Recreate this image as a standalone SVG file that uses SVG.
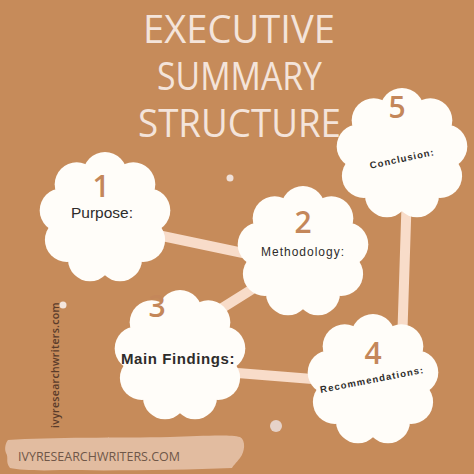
<svg xmlns="http://www.w3.org/2000/svg" xmlns:xlink="http://www.w3.org/1999/xlink" width="474" height="474" viewBox="0 0 474 474">
<style>
.title{font-family:"Open Sans","DejaVu Sans",sans-serif;font-weight:500;font-size:39px;fill:#f4e4da;}
.num{font-family:"Open Sans","DejaVu Sans",sans-serif;font-weight:600;font-size:30px;fill:#c4875a;text-anchor:middle;}
.lbl{font-family:"Liberation Sans","DejaVu Sans",sans-serif;fill:#2e2c2b;text-anchor:middle;}
.conn{stroke:#f8dcc9;stroke-width:10;stroke-linecap:round;fill:none;}
.cloud{fill:#fffdf9;}
</style>
<defs>
<g id="cloud">
<circle cx="0" cy="0" r="46"/>
<circle cx="0" cy="-44" r="22"/>
<circle cx="28.3" cy="-33.7" r="22"/>
<circle cx="43.3" cy="-7.6" r="22"/>
<circle cx="38.1" cy="22" r="22"/>
<circle cx="15" cy="41.3" r="22"/>
<circle cx="-15" cy="41.3" r="22"/>
<circle cx="-38.1" cy="22" r="22"/>
<circle cx="-43.3" cy="-7.6" r="22"/>
<circle cx="-28.3" cy="-33.7" r="22"/>
</g>
</defs>
<rect width="474" height="474" fill="#c68b5a"/>
<g id="title">
<text class="title" x="143" y="43" textLength="192" lengthAdjust="spacingAndGlyphs">EXECUTIVE</text>
<text class="title" x="157" y="90" textLength="165" lengthAdjust="spacingAndGlyphs">SUMMARY</text>
<text class="title" x="138" y="137" textLength="203" lengthAdjust="spacingAndGlyphs">STRUCTURE</text>
</g>
<g id="dots">
<circle cx="230" cy="178" r="3.5" fill="#efe0d8"/>
<circle cx="63" cy="305" r="3.5" fill="#f4e6de"/>
<circle cx="276" cy="426" r="6" fill="#e6d2c8"/>
</g>
<g id="connectors">
<line class="conn" x1="110" y1="225" x2="300" y2="265"/>
<line class="conn" x1="270" y1="278" x2="195" y2="325"/>
<line class="conn" x1="200" y1="370" x2="350" y2="382"/>
<line class="conn" x1="407" y1="190" x2="402" y2="345"/>
</g>
<g id="node1">
<use xlink:href="#cloud" class="cloud" transform="translate(105,218)"/>
<text class="num" x="101" y="197">1</text>
<text class="lbl" x="102" y="218" font-size="15.5">Purpose:</text>
</g>
<g id="node2">
<use xlink:href="#cloud" class="cloud" transform="translate(303,252)"/>
<text class="num" x="303" y="233">2</text>
<text class="lbl" x="303" y="256" font-size="12" letter-spacing="1">Methodology:</text>
</g>
<g id="node5">
<use xlink:href="#cloud" class="cloud" transform="translate(402,154)"/>
<text class="num" x="397" y="118">5</text>
<text class="lbl" x="402" y="162" font-size="9.5" font-weight="bold" letter-spacing="1" transform="rotate(-12 402 158)">Conclusion:</text>
</g>
<g id="node3">
<use xlink:href="#cloud" class="cloud" transform="translate(180,356)"/>
<text class="num" x="157" y="317">3</text>
<text class="lbl" x="178" y="364" font-size="15" font-weight="bold" letter-spacing="0.6">Main Findings:</text>
</g>
<g id="node4">
<use xlink:href="#cloud" class="cloud" transform="translate(373,380)"/>
<text class="num" x="373" y="364">4</text>
<text class="lbl" x="372" y="383" font-size="9.5" font-weight="bold" letter-spacing="1.1" transform="rotate(-11 372 379)">Recommendations:</text>
</g>
<g id="watermark">
<text x="59" y="428" font-family="Open Sans, DejaVu Sans, sans-serif" font-size="10.5" font-weight="600" fill="#5b3c2a" letter-spacing="0.4" textLength="126" transform="rotate(-90 59 428)">ivyresearchwriters.com</text>
</g>
<g id="banner">
<path d="M8 440 C50 437 120 438 170 437 C200 436 230 434 240 437 C246 440 245 452 240 458 C236 463 233 466 232 468 C180 470 110 471 60 470 C40 471 20 470 10 468 C5 462 9 458 6 453 C4 448 6 442 8 440 Z" fill="#e2bca0"/>
<text x="18" y="461" font-family="Open Sans, DejaVu Sans, sans-serif" font-size="13" fill="#6f5748" textLength="162" lengthAdjust="spacingAndGlyphs">IVYRESEARCHWRITERS.COM</text>
</g>
</svg>
